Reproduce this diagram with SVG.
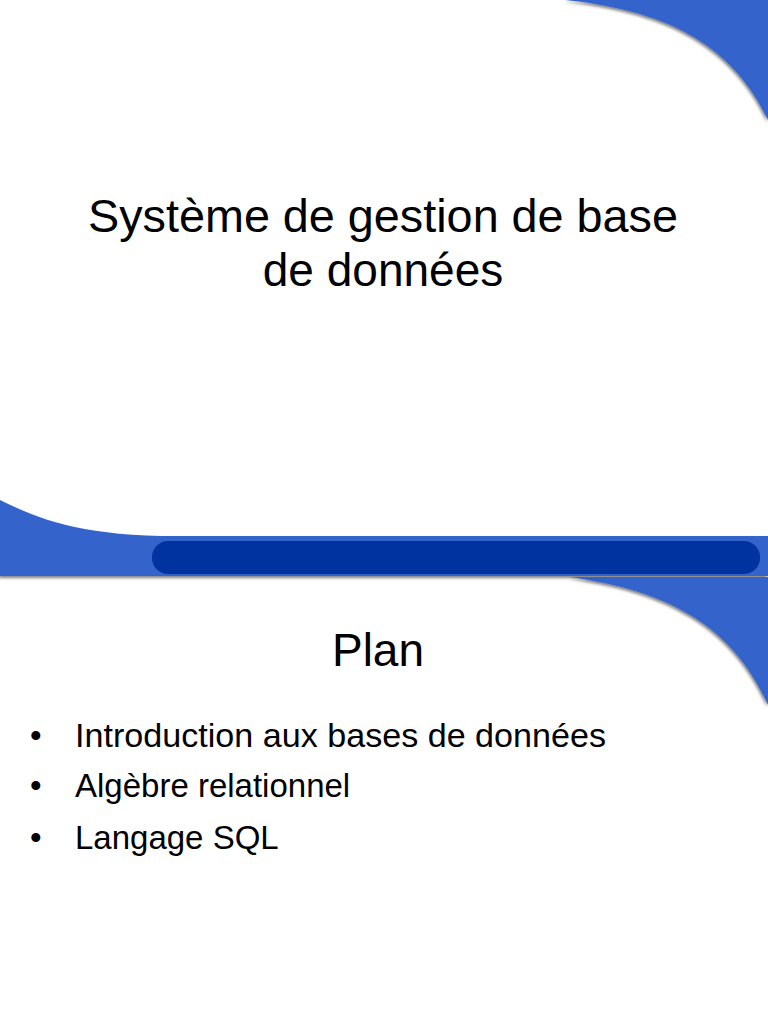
<svg xmlns="http://www.w3.org/2000/svg" width="768" height="1024" viewBox="0 0 768 1024">
<defs>
<filter id="sh" x="-10%" y="-10%" width="120%" height="130%"><feDropShadow dx="-1" dy="2" stdDeviation="1.5" flood-color="#000" flood-opacity="0.5"/></filter>
<style>.b{fill:#3464cc}.t{font-family:"Liberation Sans",Arial,sans-serif;fill:#000}</style>
</defs>
<rect width="768" height="1024" fill="#fff"/>
<path class="b" filter="url(#sh)" d="M565,0 C660,10 730,40 768,120 L768,0 Z"/>
<path class="b" filter="url(#sh)" d="M0,500 C40,520 80,534 160,536 L768,536 L768,576 L0,576 Z"/>
<rect x="152" y="541" width="608" height="33" rx="16" fill="#0033a0"/>
<path class="b" filter="url(#sh)" d="M570,577 C660,590 730,620 768,705 L768,577 Z"/>
<text class="t" x="383" y="232" font-size="46" text-anchor="middle" textLength="590" lengthAdjust="spacingAndGlyphs">Système de gestion de base</text>
<text class="t" x="383" y="286" font-size="46" text-anchor="middle">de données</text>
<text class="t" x="378" y="666" font-size="46" text-anchor="middle">Plan</text>
<g class="t" font-size="33">
<text x="30" y="747">•</text><text x="75" y="747" textLength="531" lengthAdjust="spacingAndGlyphs">Introduction aux bases de données</text>
<text x="30" y="797">•</text><text x="75" y="797">Algèbre relationnel</text>
<text x="30" y="849">•</text><text x="75" y="849">Langage SQL</text>
</g>
</svg>
